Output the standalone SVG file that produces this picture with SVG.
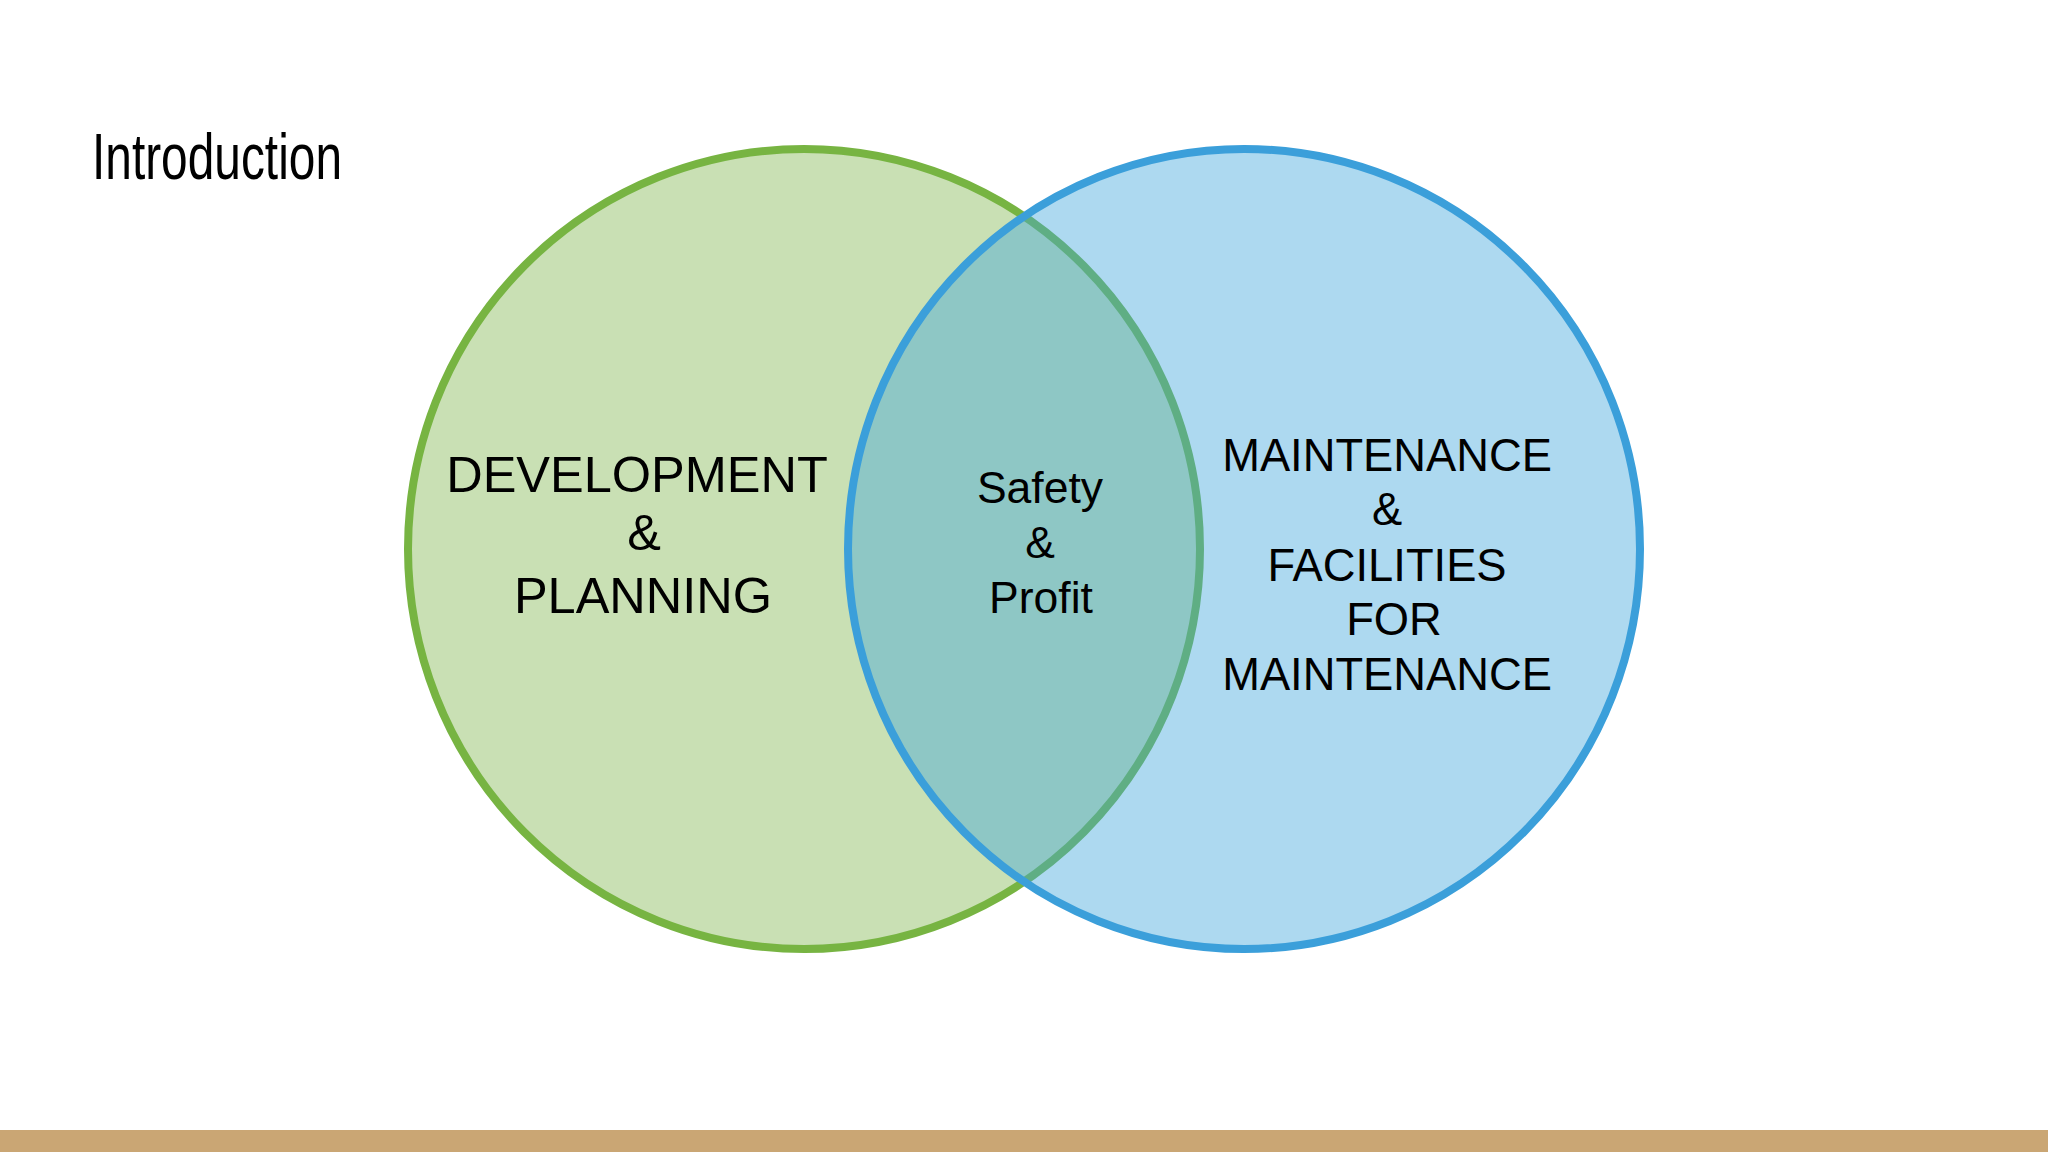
<svg xmlns="http://www.w3.org/2000/svg" width="2048" height="1152" viewBox="0 0 2048 1152">
<style>
.lbl{font-family:"Liberation Sans",Arial,sans-serif;fill:#000;text-anchor:middle}
.title{font-family:"Liberation Sans Narrow","Liberation Sans",sans-serif;font-size:64px;fill:#000}
</style>
<rect x="0" y="0" width="2048" height="1152" fill="#ffffff"/>
<text class="title" x="92" y="179" textLength="250" lengthAdjust="spacingAndGlyphs">Introduction</text>
<g id="node-development">
<ellipse cx="804" cy="549" rx="396" ry="400" fill="#c9e0b4" stroke="#77b442" stroke-width="8"/>
</g>
<g id="node-maintenance">
<ellipse cx="1244" cy="549" rx="396" ry="400" fill="rgb(65,166,220)" fill-opacity="0.43" stroke="none"/>
<ellipse cx="1244" cy="549" rx="396" ry="400" fill="none" stroke="#3b9fda" stroke-width="8"/>
</g>
<g id="labels">
<text class="lbl" font-size="50.5" x="637" y="492">DEVELOPMENT</text>
<text class="lbl" font-size="50.5" x="644" y="550">&amp;</text>
<text class="lbl" font-size="50.5" x="643" y="613">PLANNING</text>
<text class="lbl" font-size="44.5" x="1040" y="503">Safety</text>
<text class="lbl" font-size="44.5" x="1040" y="558">&amp;</text>
<text class="lbl" font-size="44.5" x="1041" y="613">Profit</text>
<text class="lbl" font-size="45.3" x="1387" y="471">MAINTENANCE</text>
<text class="lbl" font-size="45.3" x="1387" y="525">&amp;</text>
<text class="lbl" font-size="45.3" x="1387" y="581">FACILITIES</text>
<text class="lbl" font-size="45.3" x="1394" y="635">FOR</text>
<text class="lbl" font-size="45.3" x="1387" y="690">MAINTENANCE</text>
</g>
<g id="connectors"></g>
<rect x="0" y="1130" width="2048" height="22" fill="#caa674"/>
</svg>
